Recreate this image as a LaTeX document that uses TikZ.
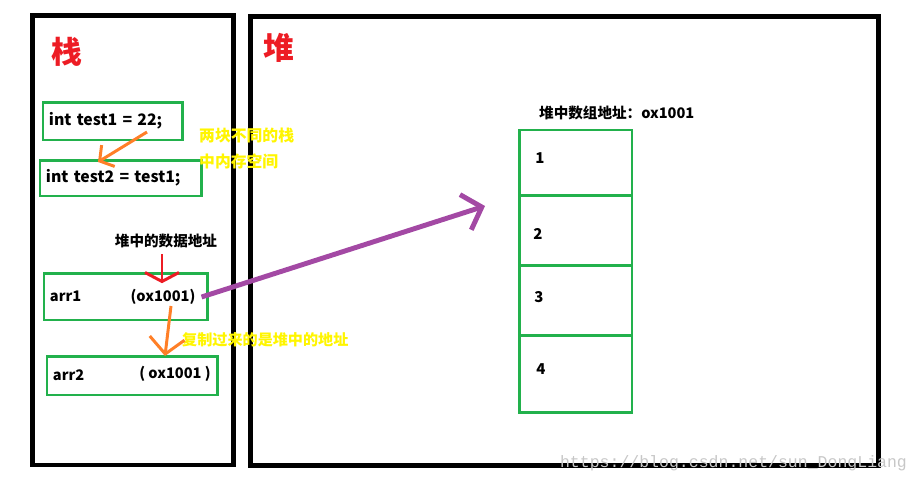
\documentclass[tikz,border=0pt]{standalone}
\usepackage{fontspec}
\setmainfont{Noto Sans CJK SC}
\newfontfamily\wmfont{Liberation Mono}
\usepackage{xcolor}
\usetikzlibrary{arrows.meta,positioning,calc}
\definecolor{boxgreen}{RGB}{34,177,76}
\definecolor{titlered}{RGB}{237,28,36}
\definecolor{noteyellow}{RGB}{255,245,0}
\definecolor{copyorange}{RGB}{255,127,39}
\definecolor{refpurple}{RGB}{163,73,164}
\tikzstyle{frame} = [draw=black, line width=2.8pt]
\tikzstyle{codebox} = [draw=boxgreen, line width=1.7pt, anchor=west, outer sep=0pt,
    inner xsep=0.12cm, align=left, font=\bfseries\fontsize{9}{11}\selectfont]
\tikzstyle{cell} = [draw=boxgreen, line width=1.7pt, minimum width=2.26cm, outer sep=0pt]
\tikzstyle{title} = [text=titlered, font=\bfseries\fontsize{17.5}{20}\selectfont]
\tikzstyle{note} = [text=noteyellow, font=\bfseries\fontsize{9}{15.3}\selectfont, align=left, anchor=west]
\tikzstyle{tag} = [font=\bfseries\fontsize{8.3}{10}\selectfont]
\tikzstyle{num} = [font=\bfseries\fontsize{8.5}{10}\selectfont]
\tikzstyle{wmtext} = [text=black!22, font=\wmfont\fontsize{9.4}{11}\selectfont]
\tikzstyle{arrow} = [line width=1.7pt]

\begin{document}
\begin{tikzpicture}[x=0.02cm, y=-0.02cm]
\useasboundingbox (0,0) rectangle (920,484);

% stack and heap
\draw[frame] (32.5,15.5) rectangle (233.5,465);
\draw[frame] (250.5,16.5) rectangle (878.5,465.5);
\node[title] (stack) at (67,52) {栈};
\node[title] (heap) at (279,48) {堆};

% variables on the stack
\node[codebox, text width=2.56cm, minimum height=0.76cm] (test1) at (43,121) {int test1 = 22;};
\node[codebox, text width=3.0cm, minimum height=0.72cm] (test2) at (40,178) {int test2 = test1;};
\node[note] (twoblocks) at (193,148.5) {两块不同的栈\\中内存空间};

\node[tag] (heapaddr) at (166,241) {堆中的数据地址};
\node[codebox, font=\bfseries\fontsize{8.3}{10}\selectfont, text width=3.04cm, minimum height=0.94cm] (arr1) at (44,296.5) {arr1};
\node[tag] (addr1) at (163,297) {(ox1001)};
\node[codebox, font=\bfseries\fontsize{8.3}{10}\selectfont, text width=3.18cm, minimum height=0.78cm] (arr2) at (47,375.5) {arr2};
\node[tag] (addr2) at (175,374) {( ox1001 )};
\node[note, font=\bfseries\fontsize{8.6}{10}\selectfont] (copied) at (176,340) {复制过来的是堆中的地址};

% array in the heap
\node[tag, anchor=west] (arrtitle) at (533,113) {堆中数组地址：ox1001};
\node[cell, minimum height=1.32cm, anchor=north] (cell1) at (575.5,130) {};
\node[cell, minimum height=1.4cm, below=0cm of cell1] (cell2) {};
\node[cell, minimum height=1.4cm, below=0cm of cell2] (cell3) {};
\node[cell, minimum height=1.54cm, below=0cm of cell3] (cell4) {};
\node[num] (n1) at (540,158) {1};
\node[num] (n2) at (538,234) {2};
\node[num] (n3) at (539,297) {3};
\node[num] (n4) at (541,369) {4};

% arrows
\coordinate (c1) at (147,132);
\coordinate (c2) at (98,162);
\draw[arrow, copyorange, -{Straight Barb[length=0.2cm, width=0.5cm]}] (c1) -- (c2);
\draw[arrow, titlered, -{Straight Barb[length=0.18cm, width=0.68cm]}] (heapaddr.south -| 162,0) -- (addr1.north -| 162,0);
\coordinate (c3) at (171,306);
\coordinate (c4) at (165,356);
\draw[arrow, copyorange, -{Straight Barb[length=0.32cm, width=0.7cm]}] (c3) -- (c4);
\coordinate (ptr) at (485,206);
\draw[line width=2.8pt, refpurple, -{Straight Barb[length=0.34cm, width=0.74cm]}] (addr1.east) -- (ptr);

\node[wmtext] (wm) at (733.5,463) {https://blog.csdn.net/sun\_DongLiang};
\end{tikzpicture}
\end{document}
